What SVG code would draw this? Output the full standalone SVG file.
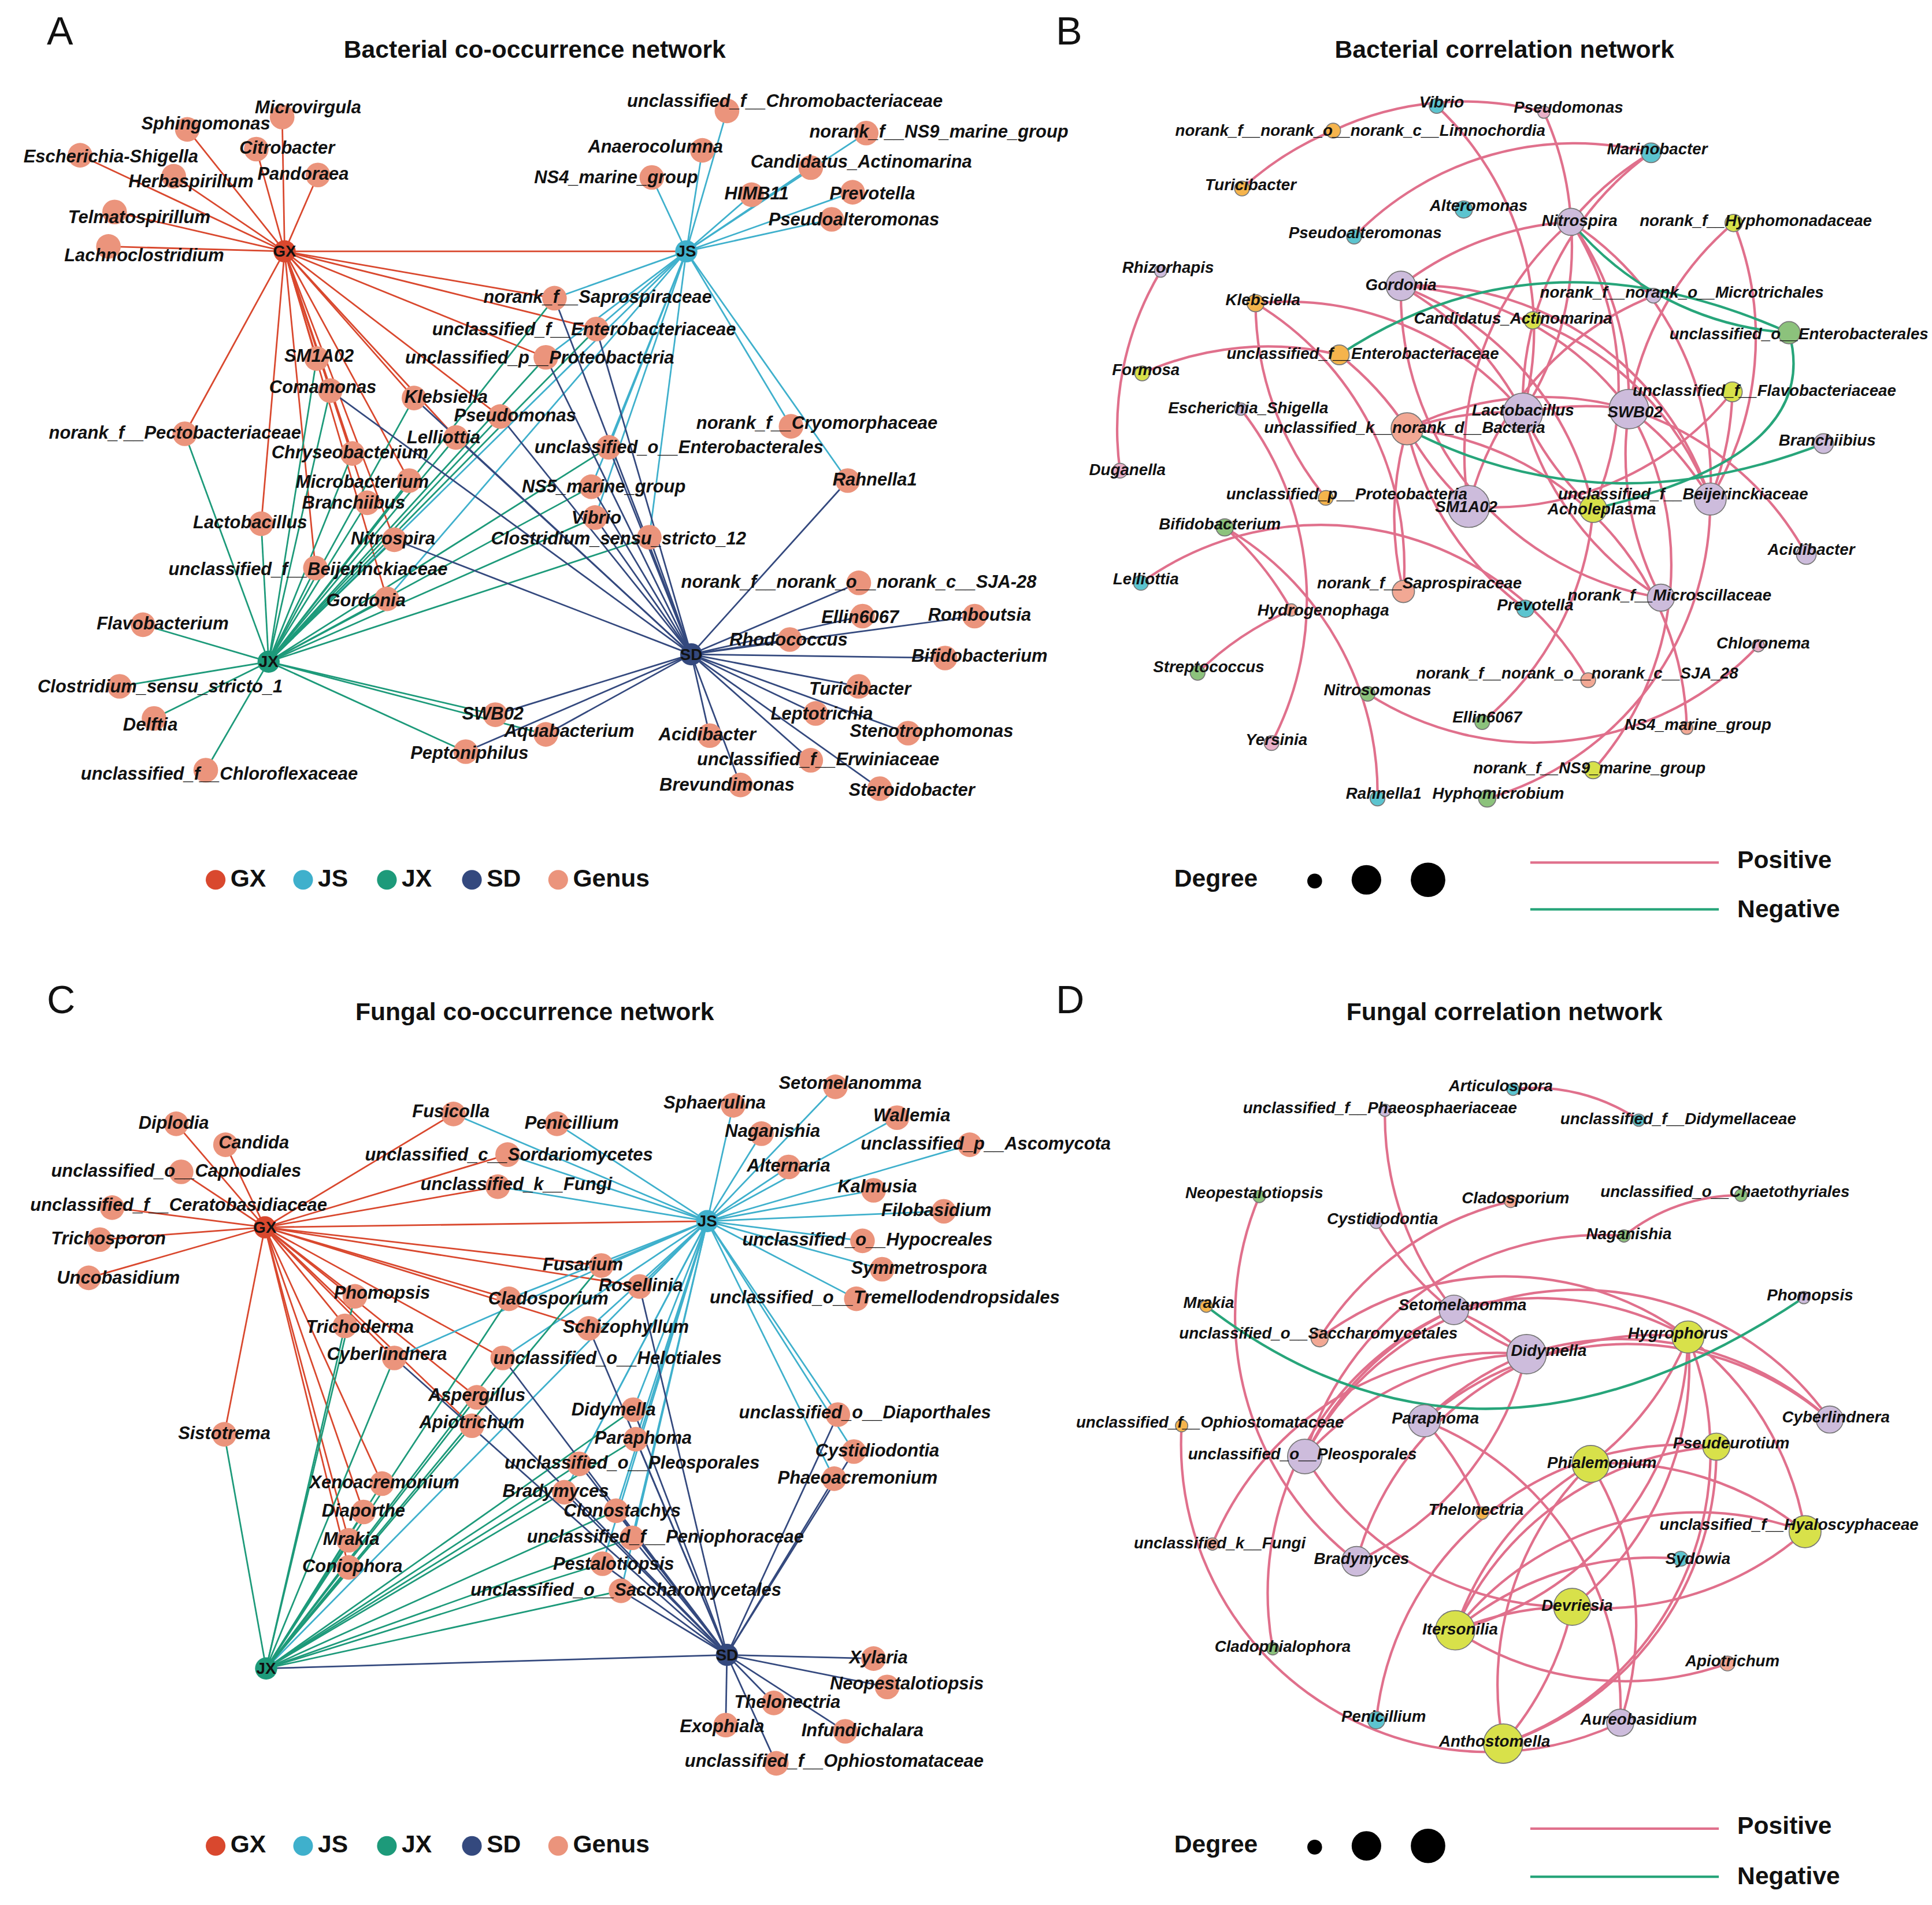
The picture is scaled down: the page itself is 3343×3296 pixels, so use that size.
<svg xmlns="http://www.w3.org/2000/svg" width="3343" height="3296" viewBox="0 0 3343 3296">
<style>
.t{font-family:"Liberation Sans",Arial,sans-serif;font-weight:bold;font-style:italic;font-size:14.5px;text-anchor:middle;dominant-baseline:middle;fill:#111}
.s{font-size:13px}
.ti{font-family:"Liberation Sans",Arial,sans-serif;font-weight:bold;font-size:20px;text-anchor:middle;fill:#111}
.pl{font-family:"Liberation Sans",Arial,sans-serif;font-size:32px;fill:#111}
.lg{font-family:"Liberation Sans",Arial,sans-serif;font-weight:bold;font-size:20px;dominant-baseline:middle;fill:#111}
.hub{font-family:"Liberation Sans",Arial,sans-serif;font-weight:bold;font-size:13px;text-anchor:middle;dominant-baseline:middle;fill:#111}
.gx{stroke:#d9482e;stroke-width:1.3}
.js{stroke:#3fb0cc;stroke-width:1.3}
.jx{stroke:#1d9a7a;stroke-width:1.3}
.sd{stroke:#34497e;stroke-width:1.3}
.p{stroke:#e0708c;stroke-width:2;fill:none}
.n{stroke:#27a57a;stroke-width:2;fill:none}
.g{fill:#eb947c}
.pu{fill:#cdbcdc;stroke:#777;stroke-width:0.8}
.cy{fill:#5cc4cf;stroke:#777;stroke-width:0.8}
.or{fill:#f5b44c;stroke:#777;stroke-width:0.8}
.ye{fill:#d8e14a;stroke:#777;stroke-width:0.8}
.gr{fill:#8cc27c;stroke:#777;stroke-width:0.8}
.sa{fill:#f2a894;stroke:#777;stroke-width:0.8}
.pk{fill:#e9b0c8;stroke:#777;stroke-width:0.8}
</style>
<rect width="3343" height="3296" fill="#fff"/>
<g transform="scale(2.132)">
<text class="pl" x="38" y="36">A</text>
<text class="pl" x="857" y="36">B</text>
<text class="pl" x="38" y="822">C</text>
<text class="pl" x="857" y="822">D</text>
<text class="ti" x="434" y="47">Bacterial co-occurrence network</text>
<text class="ti" x="1221" y="47">Bacterial correlation network</text>
<text class="ti" x="434" y="828">Fungal co-occurrence network</text>
<text class="ti" x="1221" y="828">Fungal correlation network</text>

<g id="connectors-A">
<line class="gx" x1="231" y1="204" x2="557" y2="204"/>
<line class="gx" x1="231" y1="204" x2="229" y2="95"/><line class="gx" x1="231" y1="204" x2="152" y2="105"/><line class="gx" x1="231" y1="204" x2="65" y2="126"/><line class="gx" x1="231" y1="204" x2="208" y2="121"/><line class="gx" x1="231" y1="204" x2="141" y2="143"/><line class="gx" x1="231" y1="204" x2="258" y2="142"/><line class="gx" x1="231" y1="204" x2="93" y2="172"/><line class="gx" x1="231" y1="204" x2="88" y2="200"/>
<line class="gx" x1="231" y1="204" x2="150" y2="352"/><line class="gx" x1="231" y1="204" x2="212" y2="425"/><line class="gx" x1="231" y1="204" x2="257" y2="291"/><line class="gx" x1="231" y1="204" x2="268" y2="317"/><line class="gx" x1="231" y1="204" x2="286" y2="368"/><line class="gx" x1="231" y1="204" x2="332" y2="390"/><line class="gx" x1="231" y1="204" x2="298" y2="408"/><line class="gx" x1="231" y1="204" x2="320" y2="438"/><line class="gx" x1="231" y1="204" x2="256" y2="461"/><line class="gx" x1="231" y1="204" x2="314" y2="486"/><line class="gx" x1="231" y1="204" x2="336" y2="323"/><line class="gx" x1="231" y1="204" x2="370" y2="355"/><line class="gx" x1="231" y1="204" x2="406" y2="338"/><line class="gx" x1="231" y1="204" x2="450" y2="242"/><line class="gx" x1="231" y1="204" x2="484" y2="267"/><line class="gx" x1="231" y1="204" x2="443" y2="290"/>
<line class="js" x1="557" y1="204" x2="590" y2="90"/><line class="js" x1="557" y1="204" x2="703" y2="108"/><line class="js" x1="557" y1="204" x2="570" y2="122"/><line class="js" x1="557" y1="204" x2="658" y2="136"/><line class="js" x1="557" y1="204" x2="529" y2="144"/><line class="js" x1="557" y1="204" x2="610" y2="158"/><line class="js" x1="557" y1="204" x2="692" y2="156"/><line class="js" x1="557" y1="204" x2="675" y2="178"/><line class="js" x1="557" y1="204" x2="450" y2="242"/><line class="js" x1="557" y1="204" x2="484" y2="267"/><line class="js" x1="557" y1="204" x2="443" y2="290"/><line class="js" x1="557" y1="204" x2="642" y2="346"/><line class="js" x1="557" y1="204" x2="688" y2="390"/><line class="js" x1="557" y1="204" x2="494" y2="363"/><line class="js" x1="557" y1="204" x2="480" y2="395"/><line class="js" x1="557" y1="204" x2="483" y2="420"/><line class="js" x1="557" y1="204" x2="527" y2="436"/><line class="js" x1="557" y1="204" x2="218" y2="537"/><line class="js" x1="557" y1="204" x2="314" y2="486"/>
<line class="jx" x1="218" y1="537" x2="150" y2="352"/><line class="jx" x1="218" y1="537" x2="212" y2="425"/><line class="jx" x1="218" y1="537" x2="257" y2="291"/><line class="jx" x1="218" y1="537" x2="268" y2="317"/><line class="jx" x1="218" y1="537" x2="286" y2="368"/><line class="jx" x1="218" y1="537" x2="332" y2="390"/><line class="jx" x1="218" y1="537" x2="298" y2="408"/><line class="jx" x1="218" y1="537" x2="320" y2="438"/><line class="jx" x1="218" y1="537" x2="256" y2="461"/><line class="jx" x1="218" y1="537" x2="314" y2="486"/><line class="jx" x1="218" y1="537" x2="336" y2="323"/><line class="jx" x1="218" y1="537" x2="370" y2="355"/><line class="jx" x1="218" y1="537" x2="406" y2="338"/><line class="jx" x1="218" y1="537" x2="450" y2="242"/><line class="jx" x1="218" y1="537" x2="484" y2="267"/><line class="jx" x1="218" y1="537" x2="443" y2="290"/><line class="jx" x1="218" y1="537" x2="494" y2="363"/><line class="jx" x1="218" y1="537" x2="480" y2="395"/><line class="jx" x1="218" y1="537" x2="483" y2="420"/><line class="jx" x1="218" y1="537" x2="527" y2="436"/><line class="jx" x1="218" y1="537" x2="116" y2="507"/><line class="jx" x1="218" y1="537" x2="97" y2="557"/><line class="jx" x1="218" y1="537" x2="125" y2="583"/><line class="jx" x1="218" y1="537" x2="167" y2="625"/><line class="jx" x1="218" y1="537" x2="402" y2="580"/><line class="jx" x1="218" y1="537" x2="378" y2="610"/><line class="jx" x1="218" y1="537" x2="443" y2="596"/>
<line class="sd" x1="561" y1="531" x2="336" y2="323"/><line class="sd" x1="561" y1="531" x2="370" y2="355"/><line class="sd" x1="561" y1="531" x2="406" y2="338"/><line class="sd" x1="561" y1="531" x2="450" y2="242"/><line class="sd" x1="561" y1="531" x2="484" y2="267"/><line class="sd" x1="561" y1="531" x2="443" y2="290"/><line class="sd" x1="561" y1="531" x2="494" y2="363"/><line class="sd" x1="561" y1="531" x2="480" y2="395"/><line class="sd" x1="561" y1="531" x2="483" y2="420"/><line class="sd" x1="561" y1="531" x2="527" y2="436"/><line class="sd" x1="561" y1="531" x2="688" y2="390"/><line class="sd" x1="561" y1="531" x2="268" y2="317"/><line class="sd" x1="561" y1="531" x2="320" y2="438"/><line class="sd" x1="561" y1="531" x2="402" y2="580"/><line class="sd" x1="561" y1="531" x2="378" y2="610"/><line class="sd" x1="561" y1="531" x2="443" y2="596"/><line class="sd" x1="561" y1="531" x2="697" y2="473"/><line class="sd" x1="561" y1="531" x2="700" y2="500"/><line class="sd" x1="561" y1="531" x2="791" y2="500"/><line class="sd" x1="561" y1="531" x2="641" y2="519"/><line class="sd" x1="561" y1="531" x2="767" y2="534"/><line class="sd" x1="561" y1="531" x2="697" y2="557"/><line class="sd" x1="561" y1="531" x2="662" y2="579"/><line class="sd" x1="561" y1="531" x2="737" y2="595"/><line class="sd" x1="561" y1="531" x2="576" y2="597"/><line class="sd" x1="561" y1="531" x2="658" y2="617"/><line class="sd" x1="561" y1="531" x2="714" y2="640"/><line class="sd" x1="561" y1="531" x2="601" y2="637"/>
</g>
<g id="nodes-A">
<g class="g"><circle cx="229" cy="95" r="10"/><circle cx="152" cy="105" r="10"/><circle cx="65" cy="126" r="10"/><circle cx="208" cy="121" r="10"/><circle cx="141" cy="143" r="10"/><circle cx="258" cy="142" r="10"/><circle cx="93" cy="172" r="10"/><circle cx="88" cy="200" r="10"/><circle cx="150" cy="352" r="10"/><circle cx="257" cy="291" r="10"/><circle cx="268" cy="317" r="10"/><circle cx="336" cy="323" r="10"/><circle cx="406" cy="338" r="10"/><circle cx="370" cy="355" r="10"/><circle cx="286" cy="368" r="10"/><circle cx="332" cy="390" r="10"/><circle cx="298" cy="408" r="10"/><circle cx="212" cy="425" r="10"/><circle cx="320" cy="438" r="10"/><circle cx="256" cy="461" r="10"/><circle cx="314" cy="486" r="10"/><circle cx="116" cy="507" r="10"/><circle cx="97" cy="557" r="10"/><circle cx="125" cy="583" r="10"/><circle cx="167" cy="625" r="10"/><circle cx="402" cy="580" r="10"/><circle cx="378" cy="610" r="10"/><circle cx="443" cy="596" r="10"/><circle cx="590" cy="90" r="10"/><circle cx="703" cy="108" r="10"/><circle cx="570" cy="122" r="10"/><circle cx="658" cy="136" r="10"/><circle cx="529" cy="144" r="10"/><circle cx="610" cy="158" r="10"/><circle cx="692" cy="156" r="10"/><circle cx="675" cy="178" r="10"/><circle cx="450" cy="242" r="10"/><circle cx="484" cy="267" r="10"/><circle cx="443" cy="290" r="10"/><circle cx="642" cy="346" r="10"/><circle cx="494" cy="363" r="10"/><circle cx="688" cy="390" r="10"/><circle cx="480" cy="395" r="10"/><circle cx="483" cy="420" r="10"/><circle cx="527" cy="436" r="10"/><circle cx="697" cy="473" r="10"/><circle cx="700" cy="500" r="10"/><circle cx="791" cy="500" r="10"/><circle cx="641" cy="519" r="10"/><circle cx="767" cy="534" r="10"/><circle cx="697" cy="557" r="10"/><circle cx="662" cy="579" r="10"/><circle cx="737" cy="595" r="10"/><circle cx="576" cy="597" r="10"/><circle cx="658" cy="617" r="10"/><circle cx="714" cy="640" r="10"/><circle cx="601" cy="637" r="10"/></g>
<circle cx="231" cy="204" r="9" fill="#d9482e"/><circle cx="557" cy="204" r="9" fill="#3fb0cc"/><circle cx="218" cy="537" r="9" fill="#1d9a7a"/><circle cx="561" cy="531" r="9" fill="#34497e"/>
<text class="hub" x="231" y="205">GX</text><text class="hub" x="557" y="205">JS</text><text class="hub" x="218" y="538">JX</text><text class="hub" x="561" y="532">SD</text>
<text class="t" x="250" y="88">Microvirgula</text><text class="t" x="167" y="101">Sphingomonas</text><text class="t" x="90" y="128">Escherichia-Shigella</text><text class="t" x="233" y="121">Citrobacter</text><text class="t" x="155" y="148">Herbaspirillum</text><text class="t" x="246" y="142">Pandoraea</text><text class="t" x="113" y="177">Telmatospirillum</text><text class="t" x="117" y="208">Lachnoclostridium</text><text class="t" x="142" y="352">norank_f__Pectobacteriaceae</text><text class="t" x="259" y="290">SM1A02</text><text class="t" x="262" y="315">Comamonas</text><text class="t" x="362" y="323">Klebsiella</text><text class="t" x="418" y="338">Pseudomonas</text><text class="t" x="360" y="356">Lelliottia</text><text class="t" x="284" y="368">Chryseobacterium</text><text class="t" x="294" y="392">Microbacterium</text><text class="t" x="287" y="409">Branchiibus</text><text class="t" x="203" y="425">Lactobacillus</text><text class="t" x="319" y="438">Nitrospira</text><text class="t" x="250" y="463">unclassified_f__Beijerinckiaceae</text><text class="t" x="297" y="488">Gordonia</text><text class="t" x="132" y="507">Flavobacterium</text><text class="t" x="130" y="558">Clostridium_sensu_stricto_1</text><text class="t" x="122" y="589">Delftia</text><text class="t" x="178" y="629">unclassified_f__Chloroflexaceae</text><text class="t" x="400" y="580">SWB02</text><text class="t" x="381" y="612">Peptoniphilus</text><text class="t" x="462" y="594">Aquabacterium</text><text class="t" x="637" y="83">unclassified_f__Chromobacteriaceae</text><text class="t" x="762" y="108">norank_f__NS9_marine_group</text><text class="t" x="532" y="120">Anaerocolumna</text><text class="t" x="699" y="132">Candidatus_Actinomarina</text><text class="t" x="500" y="145">NS4_marine_group</text><text class="t" x="614" y="158">HIMB11</text><text class="t" x="708" y="158">Prevotella</text><text class="t" x="693" y="179">Pseudoalteromonas</text><text class="t" x="485" y="242">norank_f__Saprospiraceae</text><text class="t" x="474" y="268">unclassified_f__Enterobacteriaceae</text><text class="t" x="438" y="291">unclassified_p__Proteobacteria</text><text class="t" x="663" y="344">norank_f__Cryomorphaceae</text><text class="t" x="551" y="364">unclassified_o__Enterobacterales</text><text class="t" x="710" y="390">Rahnella1</text><text class="t" x="490" y="396">NS5_marine_group</text><text class="t" x="484" y="421">Vibrio</text><text class="t" x="502" y="438">Clostridium_sensu_stricto_12</text><text class="t" x="697" y="473">norank_f__norank_o__norank_c__SJA-28</text><text class="t" x="698" y="502">Ellin6067</text><text class="t" x="795" y="500">Romboutsia</text><text class="t" x="640" y="520">Rhodococcus</text><text class="t" x="795" y="533">Bifidobacterium</text><text class="t" x="698" y="560">Turicibacter</text><text class="t" x="667" y="580">Leptotrichia</text><text class="t" x="756" y="594">Stenotrophomonas</text><text class="t" x="574" y="597">Acidibacter</text><text class="t" x="664" y="617">unclassified_f__Erwiniaceae</text><text class="t" x="740" y="642">Steroidobacter</text><text class="t" x="590" y="638">Brevundimonas</text>
</g>
<g id="legend-A">
<circle cx="175" cy="714" r="8" fill="#d9482e"/><text class="lg" x="187" y="714">GX</text>
<circle cx="246" cy="714" r="8" fill="#3fb0cc"/><text class="lg" x="258" y="714">JS</text>
<circle cx="314" cy="714" r="8" fill="#1d9a7a"/><text class="lg" x="326" y="714">JX</text>
<circle cx="383" cy="714" r="8" fill="#34497e"/><text class="lg" x="395" y="714">SD</text>
<circle cx="453" cy="714" r="8" fill="#eb947c"/><text class="lg" x="465" y="714">Genus</text>
</g>

<g id="connectors-B">
<path class="p" d="M1082 106 A250 250 0 0 1 1253 91"/>
<path class="p" d="M1253 91 A250 250 0 0 1 1275 180"/>
<path class="p" d="M1340 124 A250 250 0 0 0 1236 335"/>
<path class="p" d="M1340 124 A250 250 0 0 0 1275 180"/>
<path class="p" d="M1275 180 A250 250 0 0 1 1236 335"/>
<path class="p" d="M1275 180 A250 250 0 0 0 1192 411"/>
<path class="p" d="M1275 180 A250 250 0 0 1 1322 332"/>
<path class="p" d="M1275 180 A250 250 0 0 1 1293 413"/>
<path class="p" d="M1275 180 A250 250 0 0 1 1388 405"/>
<path class="p" d="M1275 180 A250 250 0 0 0 1137 232"/>
<path class="p" d="M1137 232 A250 250 0 0 1 1236 335"/>
<path class="p" d="M1137 232 A250 250 0 0 1 1322 332"/>
<path class="p" d="M1137 232 A250 250 0 0 1 1388 405"/>
<path class="p" d="M1137 232 A250 250 0 0 1 1293 413"/>
<path class="p" d="M1137 232 A250 250 0 0 0 1348 485"/>
<path class="p" d="M1019 246 A250 250 0 0 1 1236 335"/>
<path class="p" d="M1019 246 A250 250 0 0 1 1139 480"/>
<path class="p" d="M1087 288 A250 250 0 0 1 1142 348"/>
<path class="p" d="M1142 348 A250 250 0 0 0 1192 411"/>
<path class="p" d="M1142 348 A250 250 0 0 1 1236 335"/>
<path class="p" d="M1142 348 A250 250 0 0 1 1322 332"/>
<path class="p" d="M1142 348 A250 250 0 0 0 1139 480"/>
<path class="p" d="M1142 348 A250 250 0 0 0 1238 494"/>
<path class="p" d="M1322 332 A250 250 0 0 0 1236 335"/>
<path class="p" d="M1322 332 A250 250 0 0 1 1388 405"/>
<path class="p" d="M1322 332 A250 250 0 0 0 1348 485"/>
<path class="p" d="M1322 332 A250 250 0 0 1 1407 181"/>
<path class="p" d="M1322 332 A250 250 0 0 1 1466 450"/>
<path class="p" d="M1236 335 A250 250 0 0 0 1293 413"/>
<path class="p" d="M1236 335 A250 250 0 0 0 1348 485"/>
<path class="p" d="M1192 411 A250 250 0 0 0 1406 318"/>
<path class="p" d="M1407 181 A250 250 0 0 1 1388 405"/>
<path class="p" d="M1406 318 A250 250 0 0 1 1388 405"/>
<path class="p" d="M942 220 A250 250 0 0 0 909 382"/>
<path class="p" d="M927 303 A250 250 0 0 1 1087 288"/>
<path class="p" d="M1082 106 A250 250 0 0 0 1008 153"/>
<path class="p" d="M1166 86 A250 250 0 0 1 1236 335"/>
<path class="p" d="M1007 332 A250 250 0 0 1 1032 603"/>
<path class="p" d="M994 428 A250 250 0 0 1 1048 495"/>
<path class="p" d="M994 428 A250 250 0 0 1 1118 648"/>
<path class="p" d="M926 473 A250 250 0 0 1 1289 552"/>
<path class="p" d="M972 546 A250 250 0 0 1 1048 495"/>
<path class="p" d="M1110 563 A250 250 0 0 0 1427 524"/>
<path class="p" d="M1203 586 A250 250 0 0 0 1293 413"/>
<path class="p" d="M1207 648 A250 250 0 0 0 1388 405"/>
<path class="p" d="M1293 625 A250 250 0 0 0 1322 332"/>
<path class="p" d="M1369 591 A250 250 0 0 0 1142 348"/>
<path class="p" d="M1076 404 A250 250 0 0 1 1019 246"/>
<path class="p" d="M1342 240 A250 250 0 0 0 1192 411"/>
<path class="p" d="M1244 260 A250 250 0 0 1 1388 405"/>
<path class="p" d="M1099 192 A250 250 0 0 1 1340 124"/>
<path class="n" d="M1275 180 A250 250 0 0 0 1452 270"/>
<path class="n" d="M1087 288 Q1250 180 1452 270"/>
<path class="n" d="M1142 348 Q1300 430 1480 360"/>
<path class="n" d="M1293 413 Q1480 370 1452 270"/>
</g>
<g id="nodes-B">
<circle class="cy" cx="1166" cy="86" r="6"/><circle class="pk" cx="1253" cy="91" r="5"/><circle class="or" cx="1082" cy="106" r="6"/><circle class="cy" cx="1340" cy="124" r="8"/><circle class="or" cx="1008" cy="153" r="6"/><circle class="cy" cx="1188" cy="170" r="7"/><circle class="pu" cx="1275" cy="180" r="11"/><circle class="ye" cx="1407" cy="181" r="7"/><circle class="cy" cx="1099" cy="192" r="6"/><circle class="pu" cx="942" cy="220" r="5"/><circle class="pu" cx="1137" cy="232" r="12"/><circle class="or" cx="1019" cy="246" r="7"/><circle class="pu" cx="1342" cy="240" r="6"/><circle class="ye" cx="1244" cy="260" r="7"/><circle class="gr" cx="1452" cy="270" r="9"/><circle class="or" cx="1087" cy="288" r="8"/><circle class="ye" cx="927" cy="303" r="6"/><circle class="ye" cx="1406" cy="318" r="8"/><circle class="pu" cx="1007" cy="332" r="5"/><circle class="pu" cx="1236" cy="335" r="16"/><circle class="pu" cx="1322" cy="332" r="16"/><circle class="sa" cx="1142" cy="348" r="13"/><circle class="pu" cx="1480" cy="360" r="8"/><circle class="pk" cx="909" cy="382" r="6"/><circle class="or" cx="1076" cy="404" r="6"/><circle class="pu" cx="1192" cy="411" r="17"/><circle class="ye" cx="1293" cy="413" r="11"/><circle class="pu" cx="1388" cy="405" r="13"/><circle class="gr" cx="994" cy="428" r="7"/><circle class="pu" cx="1466" cy="450" r="8"/><circle class="sa" cx="1139" cy="480" r="9"/><circle class="cy" cx="1238" cy="494" r="7"/><circle class="pu" cx="1348" cy="485" r="11"/><circle class="cy" cx="926" cy="473" r="6"/><circle class="sa" cx="1048" cy="495" r="5"/><circle class="pk" cx="1427" cy="524" r="5"/><circle class="gr" cx="972" cy="546" r="6"/><circle class="sa" cx="1289" cy="552" r="6"/><circle class="gr" cx="1110" cy="563" r="6"/><circle class="sa" cx="1369" cy="591" r="5"/><circle class="gr" cx="1203" cy="586" r="6"/><circle class="pk" cx="1032" cy="603" r="6"/><circle class="ye" cx="1293" cy="625" r="7"/><circle class="cy" cx="1118" cy="648" r="6"/><circle class="gr" cx="1207" cy="648" r="7"/>
<text class="t s" x="1170" y="84">Vibrio</text><text class="t s" x="1273" y="88">Pseudomonas</text><text class="t s" x="1104" y="107">norank_f__norank_o__norank_c__Limnochordia</text><text class="t s" x="1345" y="122">Marinobacter</text><text class="t s" x="1015" y="151">Turicibacter</text><text class="t s" x="1200" y="168">Alteromonas</text><text class="t s" x="1282" y="180">Nitrospira</text><text class="t s" x="1425" y="180">norank_f__Hyphomonadaceae</text><text class="t s" x="1108" y="190">Pseudoalteromonas</text><text class="t s" x="948" y="218">Rhizorhapis</text><text class="t s" x="1137" y="232">Gordonia</text><text class="t s" x="1025" y="244">Klebsiella</text><text class="t s" x="1365" y="238">norank_f__norank_o__Microtrichales</text><text class="t s" x="1228" y="259">Candidatus_Actinomarina</text><text class="t s" x="1460" y="272">unclassified_o__Enterobacterales</text><text class="t s" x="1106" y="288">unclassified_f__Enterobacteriaceae</text><text class="t s" x="930" y="301">Formosa</text><text class="t s" x="1432" y="318">unclassified_f__Flavobacteriaceae</text><text class="t s" x="1013" y="332">Escherichia_Shigella</text><text class="t s" x="1236" y="334">Lactobacillus</text><text class="t s" x="1327" y="335">SWB02</text><text class="t s" x="1140" y="348">unclassified_k__norank_d__Bacteria</text><text class="t s" x="1483" y="358">Branchiibius</text><text class="t s" x="915" y="382">Duganella</text><text class="t s" x="1093" y="402">unclassified_p__Proteobacteria</text><text class="t s" x="1190" y="412">SM1A02</text><text class="t s" x="1300" y="414">Acholeplasma</text><text class="t s" x="1366" y="402">unclassified_f__Beijerinckiaceae</text><text class="t s" x="990" y="426">Bifidobacterium</text><text class="t s" x="1470" y="447">Acidibacter</text><text class="t s" x="1152" y="474">norank_f__Saprospiraceae</text><text class="t s" x="1246" y="492">Prevotella</text><text class="t s" x="1355" y="484">norank_f__Microscillaceae</text><text class="t s" x="930" y="471">Lelliottia</text><text class="t s" x="1074" y="496">Hydrogenophaga</text><text class="t s" x="1431" y="523">Chloronema</text><text class="t s" x="981" y="542">Streptococcus</text><text class="t s" x="1280" y="547">norank_f__norank_o__norank_c__SJA_28</text><text class="t s" x="1118" y="561">Nitrosomonas</text><text class="t s" x="1378" y="589">NS4_marine_group</text><text class="t s" x="1207" y="583">Ellin6067</text><text class="t s" x="1036" y="601">Yersinia</text><text class="t s" x="1290" y="624">norank_f__NS9_marine_group</text><text class="t s" x="1123" y="645">Rahnella1</text><text class="t s" x="1216" y="645">Hyphomicrobium</text>
</g>
<g id="legend-B">
<text class="lg" x="953" y="714">Degree</text>
<circle cx="1067" cy="715" r="6" fill="#000"/><circle cx="1109" cy="714" r="12" fill="#000"/><circle cx="1159" cy="714" r="14" fill="#000"/>
<line x1="1242" y1="700" x2="1395" y2="700" class="p"/><text class="lg" x="1410" y="699">Positive</text>
<line x1="1242" y1="738" x2="1395" y2="738" class="n"/><text class="lg" x="1410" y="739">Negative</text>
</g>

<g id="connectors-C">
<line class="gx" x1="215" y1="996" x2="143" y2="912"/><line class="gx" x1="215" y1="996" x2="183" y2="929"/><line class="gx" x1="215" y1="996" x2="147" y2="951"/><line class="gx" x1="215" y1="996" x2="91" y2="980"/><line class="gx" x1="215" y1="996" x2="81" y2="1006"/><line class="gx" x1="215" y1="996" x2="72" y2="1037"/><line class="gx" x1="215" y1="996" x2="368" y2="904"/><line class="gx" x1="215" y1="996" x2="412" y2="937"/><line class="gx" x1="215" y1="996" x2="404" y2="963"/><line class="gx" x1="215" y1="996" x2="488" y2="1027"/><line class="gx" x1="215" y1="996" x2="519" y2="1044"/><line class="gx" x1="215" y1="996" x2="288" y2="1052"/><line class="gx" x1="215" y1="996" x2="413" y2="1054"/><line class="gx" x1="215" y1="996" x2="280" y2="1076"/><line class="gx" x1="215" y1="996" x2="478" y2="1078"/><line class="gx" x1="215" y1="996" x2="320" y2="1102"/><line class="gx" x1="215" y1="996" x2="408" y2="1102"/><line class="gx" x1="215" y1="996" x2="387" y2="1134"/><line class="gx" x1="215" y1="996" x2="383" y2="1157"/><line class="gx" x1="215" y1="996" x2="182" y2="1164"/><line class="gx" x1="215" y1="996" x2="310" y2="1204"/><line class="gx" x1="215" y1="996" x2="295" y2="1227"/><line class="gx" x1="215" y1="996" x2="283" y2="1250"/><line class="gx" x1="215" y1="996" x2="283" y2="1272"/><line class="gx" x1="215" y1="996" x2="574" y2="991"/>
<line class="js" x1="574" y1="991" x2="368" y2="904"/><line class="js" x1="574" y1="991" x2="452" y2="912"/><line class="js" x1="574" y1="991" x2="595" y2="897"/><line class="js" x1="574" y1="991" x2="678" y2="882"/><line class="js" x1="574" y1="991" x2="728" y2="907"/><line class="js" x1="574" y1="991" x2="412" y2="937"/><line class="js" x1="574" y1="991" x2="618" y2="920"/><line class="js" x1="574" y1="991" x2="787" y2="929"/><line class="js" x1="574" y1="991" x2="640" y2="947"/><line class="js" x1="574" y1="991" x2="404" y2="963"/><line class="js" x1="574" y1="991" x2="709" y2="966"/><line class="js" x1="574" y1="991" x2="766" y2="983"/><line class="js" x1="574" y1="991" x2="700" y2="1007"/><line class="js" x1="574" y1="991" x2="716" y2="1030"/><line class="js" x1="574" y1="991" x2="695" y2="1054"/><line class="js" x1="574" y1="991" x2="488" y2="1027"/><line class="js" x1="574" y1="991" x2="519" y2="1044"/><line class="js" x1="574" y1="991" x2="413" y2="1054"/><line class="js" x1="574" y1="991" x2="478" y2="1078"/><line class="js" x1="574" y1="991" x2="320" y2="1102"/><line class="js" x1="574" y1="991" x2="408" y2="1102"/><line class="js" x1="574" y1="991" x2="514" y2="1144"/><line class="js" x1="574" y1="991" x2="516" y2="1168"/><line class="js" x1="574" y1="991" x2="470" y2="1188"/><line class="js" x1="574" y1="991" x2="458" y2="1211"/><line class="js" x1="574" y1="991" x2="500" y2="1226"/><line class="js" x1="574" y1="991" x2="513" y2="1248"/><line class="js" x1="574" y1="991" x2="489" y2="1269"/><line class="js" x1="574" y1="991" x2="504" y2="1291"/><line class="js" x1="574" y1="991" x2="680" y2="1148"/><line class="js" x1="574" y1="991" x2="693" y2="1178"/><line class="js" x1="574" y1="991" x2="677" y2="1200"/><line class="js" x1="574" y1="991" x2="216" y2="1354"/>
<line class="jx" x1="216" y1="1354" x2="182" y2="1164"/><line class="jx" x1="216" y1="1354" x2="320" y2="1102"/><line class="jx" x1="216" y1="1354" x2="288" y2="1052"/><line class="jx" x1="216" y1="1354" x2="280" y2="1076"/><line class="jx" x1="216" y1="1354" x2="387" y2="1134"/><line class="jx" x1="216" y1="1354" x2="383" y2="1157"/><line class="jx" x1="216" y1="1354" x2="310" y2="1204"/><line class="jx" x1="216" y1="1354" x2="295" y2="1227"/><line class="jx" x1="216" y1="1354" x2="283" y2="1250"/><line class="jx" x1="216" y1="1354" x2="283" y2="1272"/><line class="jx" x1="216" y1="1354" x2="408" y2="1102"/><line class="jx" x1="216" y1="1354" x2="514" y2="1144"/><line class="jx" x1="216" y1="1354" x2="516" y2="1168"/><line class="jx" x1="216" y1="1354" x2="470" y2="1188"/><line class="jx" x1="216" y1="1354" x2="458" y2="1211"/><line class="jx" x1="216" y1="1354" x2="500" y2="1226"/><line class="jx" x1="216" y1="1354" x2="513" y2="1248"/><line class="jx" x1="216" y1="1354" x2="489" y2="1269"/><line class="jx" x1="216" y1="1354" x2="504" y2="1291"/><line class="jx" x1="216" y1="1354" x2="488" y2="1027"/><line class="jx" x1="216" y1="1354" x2="413" y2="1054"/>
<line class="sd" x1="590" y1="1343" x2="709" y2="1346"/><line class="sd" x1="590" y1="1343" x2="720" y2="1369"/><line class="sd" x1="590" y1="1343" x2="628" y2="1382"/><line class="sd" x1="590" y1="1343" x2="686" y2="1405"/><line class="sd" x1="590" y1="1343" x2="589" y2="1400"/><line class="sd" x1="590" y1="1343" x2="630" y2="1431"/><line class="sd" x1="590" y1="1343" x2="680" y2="1148"/><line class="sd" x1="590" y1="1343" x2="693" y2="1178"/><line class="sd" x1="590" y1="1343" x2="677" y2="1200"/><line class="sd" x1="590" y1="1343" x2="514" y2="1144"/><line class="sd" x1="590" y1="1343" x2="516" y2="1168"/><line class="sd" x1="590" y1="1343" x2="470" y2="1188"/><line class="sd" x1="590" y1="1343" x2="458" y2="1211"/><line class="sd" x1="590" y1="1343" x2="500" y2="1226"/><line class="sd" x1="590" y1="1343" x2="513" y2="1248"/><line class="sd" x1="590" y1="1343" x2="489" y2="1269"/><line class="sd" x1="590" y1="1343" x2="504" y2="1291"/><line class="sd" x1="590" y1="1343" x2="408" y2="1102"/><line class="sd" x1="590" y1="1343" x2="387" y2="1134"/><line class="sd" x1="590" y1="1343" x2="320" y2="1102"/><line class="sd" x1="590" y1="1343" x2="478" y2="1078"/><line class="sd" x1="590" y1="1343" x2="519" y2="1044"/><line class="sd" x1="590" y1="1343" x2="216" y2="1354"/>
</g>
<g id="nodes-C">
<g class="g"><circle cx="143" cy="912" r="10"/><circle cx="368" cy="904" r="10"/><circle cx="452" cy="912" r="10"/><circle cx="595" cy="897" r="10"/><circle cx="678" cy="882" r="10"/><circle cx="183" cy="929" r="10"/><circle cx="728" cy="907" r="10"/><circle cx="412" cy="937" r="10"/><circle cx="618" cy="920" r="10"/><circle cx="787" cy="929" r="10"/><circle cx="147" cy="951" r="10"/><circle cx="640" cy="947" r="10"/><circle cx="404" cy="963" r="10"/><circle cx="709" cy="966" r="10"/><circle cx="91" cy="980" r="10"/><circle cx="766" cy="983" r="10"/><circle cx="81" cy="1006" r="10"/><circle cx="700" cy="1007" r="10"/><circle cx="72" cy="1037" r="10"/><circle cx="716" cy="1030" r="10"/><circle cx="488" cy="1027" r="10"/><circle cx="519" cy="1044" r="10"/><circle cx="288" cy="1052" r="10"/><circle cx="413" cy="1054" r="10"/><circle cx="695" cy="1054" r="10"/><circle cx="280" cy="1076" r="10"/><circle cx="478" cy="1078" r="10"/><circle cx="320" cy="1102" r="10"/><circle cx="408" cy="1102" r="10"/><circle cx="387" cy="1134" r="10"/><circle cx="514" cy="1144" r="10"/><circle cx="383" cy="1157" r="10"/><circle cx="516" cy="1168" r="10"/><circle cx="680" cy="1148" r="10"/><circle cx="182" cy="1164" r="10"/><circle cx="693" cy="1178" r="10"/><circle cx="470" cy="1188" r="10"/><circle cx="677" cy="1200" r="10"/><circle cx="310" cy="1204" r="10"/><circle cx="458" cy="1211" r="10"/><circle cx="500" cy="1226" r="10"/><circle cx="295" cy="1227" r="10"/><circle cx="513" cy="1248" r="10"/><circle cx="283" cy="1250" r="10"/><circle cx="489" cy="1269" r="10"/><circle cx="283" cy="1272" r="10"/><circle cx="504" cy="1291" r="10"/><circle cx="709" cy="1346" r="10"/><circle cx="720" cy="1369" r="10"/><circle cx="628" cy="1382" r="10"/><circle cx="686" cy="1405" r="10"/><circle cx="589" cy="1400" r="10"/><circle cx="630" cy="1431" r="10"/></g>
<circle cx="215" cy="996" r="9" fill="#d9482e"/><circle cx="574" cy="991" r="9" fill="#3fb0cc"/><circle cx="216" cy="1354" r="9" fill="#1d9a7a"/><circle cx="590" cy="1343" r="9" fill="#34497e"/>
<text class="hub" x="215" y="997">GX</text><text class="hub" x="574" y="992">JS</text><text class="hub" x="216" y="1355">JX</text><text class="hub" x="590" y="1344">SD</text>
<text class="t" x="141" y="912">Diplodia</text><text class="t" x="366" y="903">Fusicolla</text><text class="t" x="464" y="912">Penicillium</text><text class="t" x="580" y="896">Sphaerulina</text><text class="t" x="690" y="880">Setomelanomma</text><text class="t" x="206" y="928">Candida</text><text class="t" x="740" y="906">Wallemia</text><text class="t" x="413" y="938">unclassified_c__Sordariomycetes</text><text class="t" x="627" y="919">Naganishia</text><text class="t" x="800" y="929">unclassified_p__Ascomycota</text><text class="t" x="143" y="951">unclassified_o__Capnodiales</text><text class="t" x="640" y="947">Alternaria</text><text class="t" x="419" y="962">unclassified_k__Fungi</text><text class="t" x="712" y="964">Kalmusia</text><text class="t" x="145" y="979">unclassified_f__Ceratobasidiaceae</text><text class="t" x="760" y="983">Filobasidium</text><text class="t" x="88" y="1006">Trichosporon</text><text class="t" x="704" y="1007">unclassified_o__Hypocreales</text><text class="t" x="96" y="1038">Uncobasidium</text><text class="t" x="746" y="1030">Symmetrospora</text><text class="t" x="473" y="1027">Fusarium</text><text class="t" x="520" y="1044">Rosellinia</text><text class="t" x="310" y="1050">Phomopsis</text><text class="t" x="445" y="1055">Cladosporium</text><text class="t" x="718" y="1054">unclassified_o__Tremellodendropsidales</text><text class="t" x="292" y="1078">Trichoderma</text><text class="t" x="508" y="1078">Schizophyllum</text><text class="t" x="314" y="1100">Cyberlindnera</text><text class="t" x="493" y="1103">unclassified_o__Helotiales</text><text class="t" x="387" y="1133">Aspergillus</text><text class="t" x="498" y="1145">Didymella</text><text class="t" x="383" y="1155">Apiotrichum</text><text class="t" x="522" y="1168">Paraphoma</text><text class="t" x="702" y="1147">unclassified_o__Diaporthales</text><text class="t" x="182" y="1164">Sistotrema</text><text class="t" x="712" y="1178">Cystidiodontia</text><text class="t" x="513" y="1188">unclassified_o__Pleosporales</text><text class="t" x="696" y="1200">Phaeoacremonium</text><text class="t" x="312" y="1204">Xenoacremonium</text><text class="t" x="451" y="1211">Bradymyces</text><text class="t" x="505" y="1227">Clonostachys</text><text class="t" x="295" y="1227">Diaporthe</text><text class="t" x="540" y="1248">unclassified_f__Peniophoraceae</text><text class="t" x="285" y="1250">Mrakia</text><text class="t" x="498" y="1270">Pestalotiopsis</text><text class="t" x="286" y="1272">Coniophora</text><text class="t" x="508" y="1291">unclassified_o__Saccharomycetales</text><text class="t" x="713" y="1346">Xylaria</text><text class="t" x="736" y="1367">Neopestalotiopsis</text><text class="t" x="639" y="1382">Thelonectria</text><text class="t" x="700" y="1405">Infundichalara</text><text class="t" x="586" y="1402">Exophiala</text><text class="t" x="677" y="1430">unclassified_f__Ophiostomataceae</text>
</g>
<g id="legend-C">
<circle cx="175" cy="1498" r="8" fill="#d9482e"/><text class="lg" x="187" y="1498">GX</text>
<circle cx="246" cy="1498" r="8" fill="#3fb0cc"/><text class="lg" x="258" y="1498">JS</text>
<circle cx="314" cy="1498" r="8" fill="#1d9a7a"/><text class="lg" x="326" y="1498">JX</text>
<circle cx="383" cy="1498" r="8" fill="#34497e"/><text class="lg" x="395" y="1498">SD</text>
<circle cx="453" cy="1498" r="8" fill="#eb947c"/><text class="lg" x="465" y="1498">Genus</text>
</g>

<g id="connectors-D">
<path class="p" d="M1228 884 A150 150 0 0 1 1330 909"/>
<path class="p" d="M1124 901 A250 250 0 0 0 1180 1063"/>
<path class="p" d="M1022 971 A250 250 0 0 0 1101 1267"/>
<path class="p" d="M1226 975 A250 250 0 0 0 1071 1086"/>
<path class="p" d="M1117 992 A250 250 0 0 0 1239 1099"/>
<path class="p" d="M1318 1003 A250 250 0 0 0 1059 1182"/>
<path class="p" d="M1413 970 A150 150 0 0 0 1318 1003"/>
<path class="p" d="M1180 1063 A250 250 0 0 1 1239 1099"/>
<path class="p" d="M1180 1063 A250 250 0 0 0 1059 1182"/>
<path class="p" d="M1180 1063 A250 250 0 0 1 1370 1085"/>
<path class="p" d="M1239 1099 A250 250 0 0 0 1156 1153"/>
<path class="p" d="M1239 1099 A250 250 0 0 1 1485 1152"/>
<path class="p" d="M1239 1099 A250 250 0 0 1 1101 1267"/>
<path class="p" d="M1239 1099 A250 250 0 0 0 1059 1182"/>
<path class="p" d="M1370 1085 A250 250 0 0 1 1291 1188"/>
<path class="p" d="M1370 1085 A250 250 0 0 1 1276 1304"/>
<path class="p" d="M1370 1085 A250 250 0 0 1 1181 1323"/>
<path class="p" d="M1370 1085 A250 250 0 0 1 1220 1415"/>
<path class="p" d="M1370 1085 A250 250 0 0 1 1465 1243"/>
<path class="p" d="M1485 1152 A250 250 0 0 0 1156 1153"/>
<path class="p" d="M1485 1152 A250 250 0 0 0 1059 1182"/>
<path class="p" d="M1393 1174 A250 250 0 0 0 1181 1323"/>
<path class="p" d="M1393 1174 A250 250 0 0 1 1220 1415"/>
<path class="p" d="M1393 1174 A250 250 0 0 0 1117 1396"/>
<path class="p" d="M1291 1188 A250 250 0 0 0 1181 1323"/>
<path class="p" d="M1291 1188 A250 250 0 0 0 1220 1415"/>
<path class="p" d="M1291 1188 A250 250 0 0 1 1465 1243"/>
<path class="p" d="M1291 1188 A250 250 0 0 1 1315 1398"/>
<path class="p" d="M1465 1243 A250 250 0 0 1 1276 1304"/>
<path class="p" d="M1465 1243 A250 250 0 0 0 1181 1323"/>
<path class="p" d="M1364 1265 A250 250 0 0 0 1181 1323"/>
<path class="p" d="M1276 1304 A250 250 0 0 0 1181 1323"/>
<path class="p" d="M1276 1304 A250 250 0 0 1 1220 1415"/>
<path class="p" d="M1181 1323 A250 250 0 0 0 1402 1350"/>
<path class="p" d="M1156 1153 A250 250 0 0 1 1315 1398"/>
<path class="p" d="M1059 1182 A250 250 0 0 0 1276 1304"/>
<path class="p" d="M959 1157 A250 250 0 0 0 1315 1398"/>
<path class="p" d="M984 1253 A250 250 0 0 1 1239 1099"/>
<path class="p" d="M1101 1267 A250 250 0 0 1 1370 1085"/>
<path class="p" d="M1033 1338 A250 250 0 0 1 1180 1063"/>
<path class="p" d="M1203 1228 A250 250 0 0 0 1156 1153"/>
<path class="p" d="M1071 1086 A250 250 0 0 1 1370 1085"/>
<path class="n" d="M979 1060 Q1200 1230 1464 1053"/>
</g>
<g id="nodes-D">
<circle class="cy" cx="1228" cy="884" r="5"/><circle class="pu" cx="1124" cy="901" r="5"/><circle class="cy" cx="1330" cy="909" r="5"/><circle class="gr" cx="1022" cy="971" r="5"/><circle class="sa" cx="1226" cy="975" r="5"/><circle class="gr" cx="1413" cy="970" r="5"/><circle class="pu" cx="1117" cy="992" r="5"/><circle class="gr" cx="1318" cy="1003" r="5"/><circle class="or" cx="979" cy="1060" r="5"/><circle class="pu" cx="1464" cy="1053" r="5"/><circle class="pu" cx="1180" cy="1063" r="12"/><circle class="sa" cx="1071" cy="1086" r="7"/><circle class="pu" cx="1239" cy="1099" r="16"/><circle class="ye" cx="1370" cy="1085" r="13"/><circle class="pu" cx="1485" cy="1152" r="11"/><circle class="or" cx="959" cy="1157" r="5"/><circle class="pu" cx="1156" cy="1153" r="13"/><circle class="ye" cx="1393" cy="1174" r="11"/><circle class="pu" cx="1059" cy="1182" r="14"/><circle class="ye" cx="1291" cy="1188" r="15"/><circle class="or" cx="1203" cy="1228" r="5"/><circle class="ye" cx="1465" cy="1243" r="13"/><circle class="sa" cx="984" cy="1253" r="5"/><circle class="pu" cx="1101" cy="1267" r="12"/><circle class="cy" cx="1364" cy="1265" r="6"/><circle class="ye" cx="1276" cy="1304" r="15"/><circle class="ye" cx="1181" cy="1323" r="16"/><circle class="gr" cx="1033" cy="1338" r="5"/><circle class="sa" cx="1402" cy="1350" r="6"/><circle class="cy" cx="1117" cy="1396" r="7"/><circle class="pu" cx="1315" cy="1398" r="11"/><circle class="ye" cx="1220" cy="1415" r="16"/>
<text class="t s" x="1218" y="882">Articulospora</text><text class="t s" x="1120" y="900">unclassified_f__Phaeosphaeriaceae</text><text class="t s" x="1362" y="909">unclassified_f__Didymellaceae</text><text class="t s" x="1018" y="969">Neopestalotiopsis</text><text class="t s" x="1230" y="973">Cladosporium</text><text class="t s" x="1400" y="968">unclassified_o__Chaetothyriales</text><text class="t s" x="1122" y="990">Cystidiodontia</text><text class="t s" x="1322" y="1002">Naganishia</text><text class="t s" x="981" y="1058">Mrakia</text><text class="t s" x="1469" y="1052">Phomopsis</text><text class="t s" x="1187" y="1060">Setomelanomma</text><text class="t s" x="1070" y="1083">unclassified_o__Saccharomycetales</text><text class="t s" x="1257" y="1097">Didymella</text><text class="t s" x="1362" y="1083">Hygrophorus</text><text class="t s" x="1490" y="1151">Cyberlindnera</text><text class="t s" x="982" y="1155">unclassified_f__Ophiostomataceae</text><text class="t s" x="1165" y="1152">Paraphoma</text><text class="t s" x="1405" y="1172">Pseudeurotium</text><text class="t s" x="1057" y="1181">unclassified_o__Pleosporales</text><text class="t s" x="1300" y="1188">Phialemonium</text><text class="t s" x="1198" y="1226">Thelonectria</text><text class="t s" x="1452" y="1238">unclassified_f__Hyaloscyphaceae</text><text class="t s" x="990" y="1253">unclassified_k__Fungi</text><text class="t s" x="1105" y="1266">Bradymyces</text><text class="t s" x="1378" y="1266">Sydowia</text><text class="t s" x="1280" y="1304">Devriesia</text><text class="t s" x="1185" y="1323">Itersonilia</text><text class="t s" x="1041" y="1337">Cladophialophora</text><text class="t s" x="1406" y="1349">Apiotrichum</text><text class="t s" x="1123" y="1394">Penicillium</text><text class="t s" x="1330" y="1396">Aureobasidium</text><text class="t s" x="1213" y="1414">Anthostomella</text>
</g>
<g id="legend-D">
<text class="lg" x="953" y="1498">Degree</text>
<circle cx="1067" cy="1499" r="6" fill="#000"/><circle cx="1109" cy="1498" r="12" fill="#000"/><circle cx="1159" cy="1498" r="14" fill="#000"/>
<line x1="1242" y1="1484" x2="1395" y2="1484" class="p"/><text class="lg" x="1410" y="1483">Positive</text>
<line x1="1242" y1="1523" x2="1395" y2="1523" class="n"/><text class="lg" x="1410" y="1524">Negative</text>
</g>
</g>
</svg>
